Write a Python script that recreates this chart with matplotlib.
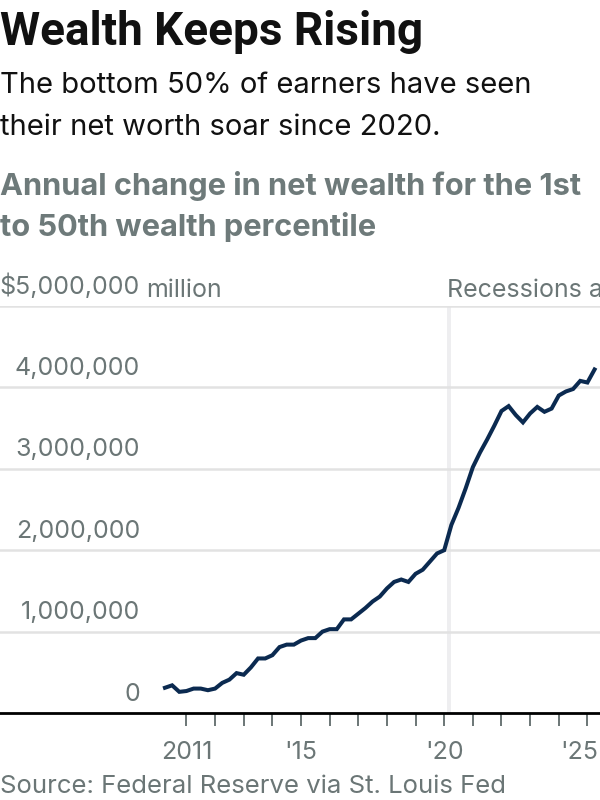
import numpy as np
import matplotlib.pyplot as plt
from matplotlib.transforms import blended_transform_factory, ScaledTranslation

# quarterly net worth, bottom 50%, millions of dollars
quarters = np.arange(2010.25, 2025.26, 0.25)
net_worth = [0.31, 0.34, 0.26, 0.27, 0.30, 0.30, 0.28, 0.30,
             0.37, 0.41, 0.49, 0.47, 0.56, 0.67, 0.67, 0.71,
             0.81, 0.84, 0.84, 0.89, 0.92, 0.92, 1.00, 1.03,
             1.03, 1.15, 1.15, 1.22, 1.29, 1.37, 1.43, 1.53,
             1.61, 1.64, 1.61, 1.71, 1.76, 1.86, 1.96, 2.00,
             2.31, 2.52, 2.76, 3.02, 3.20, 3.36, 3.53, 3.71,
             3.77, 3.66, 3.57, 3.68, 3.76, 3.70, 3.74, 3.90,
             3.95, 3.98, 4.08, 4.06, 4.22]
net_worth = np.array(net_worth) * 1e6

recession = (2020.083, 2020.25)
yticks = [0, 1e6, 2e6, 3e6, 4e6, 5e6]
ylabels = ["0", "1,000,000", "2,000,000", "3,000,000", "4,000,000", "$5,000,000"]
xticks = list(range(2011, 2026))
xlabels = {2011: "2011", 2015: "'15", 2020: "'20", 2025: "'25"}

plt.rcParams['font.family'] = ['Inter', 'DejaVu Sans']
GRAY = '#6b7676'
NAVY = '#0b2a50'

fig = plt.figure(figsize=(6, 8), dpi=100)
ax = fig.add_axes([0, 1 - 713/800, 1, (713 - 306)/800])
ax.set_xlim(2004.49, 2025.44)
ax.set_ylim(0, 5e6)

ax.axvspan(*recession, color='#eeeef0', lw=0, zorder=0)
for v in yticks[1:]:
    ax.axhline(v, color='#e2e2e2', lw=1.8, zorder=1)
ax.axhline(0, color='black', lw=2, zorder=3, clip_on=False)

ax.plot(quarters, net_worth, color=NAVY, lw=2.9, zorder=4,
        solid_joinstyle='miter')

for s in ax.spines.values():
    s.set_visible(False)
ax.set_yticks([])
ax.set_xticks(xticks)
ax.set_xticklabels([xlabels.get(t, "") for t in xticks])
ax.tick_params(axis='x', length=9, width=1.4, color=GRAY, pad=11,
               labelsize=18, labelcolor=GRAY)
# keep the last label inside the canvas
last = ax.get_xticklabels()[-1]
last.set_transform(last.get_transform() + ScaledTranslation(-8/100, 0, fig.dpi_scale_trans))

tr = blended_transform_factory(fig.transFigure, ax.transData)
for v, lab in zip(yticks, ylabels):
    ax.text(140/600, v + 0.09e6, lab, transform=tr, ha='right',
            va='bottom', fontsize=18, color=GRAY)
fig.text(146/600, 1 - 297/800, "million", ha='left', va='baseline',
         fontsize=18, color=GRAY)
ax.text(recession[0], 1 - 297/800, "Recessions are shaded",
        transform=blended_transform_factory(ax.transData, fig.transFigure),
        ha='left', va='baseline', fontsize=18, color=GRAY)

fig.text(0, 1 - 45/800, "Wealth Keeps Rising", fontsize=33, fontweight='bold',
         family=['Roboto', 'DejaVu Sans'], color='#111111', va='baseline')
fig.text(0, 1 - 93/800, "The bottom 50% of earners have seen", fontsize=21,
         color='#111111', va='baseline')
fig.text(0, 1 - 135/800, "their net worth soar since 2020.", fontsize=21,
         color='#111111', va='baseline')
fig.text(0, 1 - 195/800, "Annual change in net wealth for the 1st", fontsize=22.2,
         fontweight='bold', color='#6e7a7a', va='baseline')
fig.text(0, 1 - 236/800, "to 50th wealth percentile", fontsize=22.2,
         fontweight='bold', color='#6e7a7a', va='baseline')
fig.text(0, 1 - 793/800, "Source: Federal Reserve via St. Louis Fed", fontsize=18.5,
         color=GRAY, va='baseline')

fig.savefig('out.png', dpi=100, facecolor='white')
